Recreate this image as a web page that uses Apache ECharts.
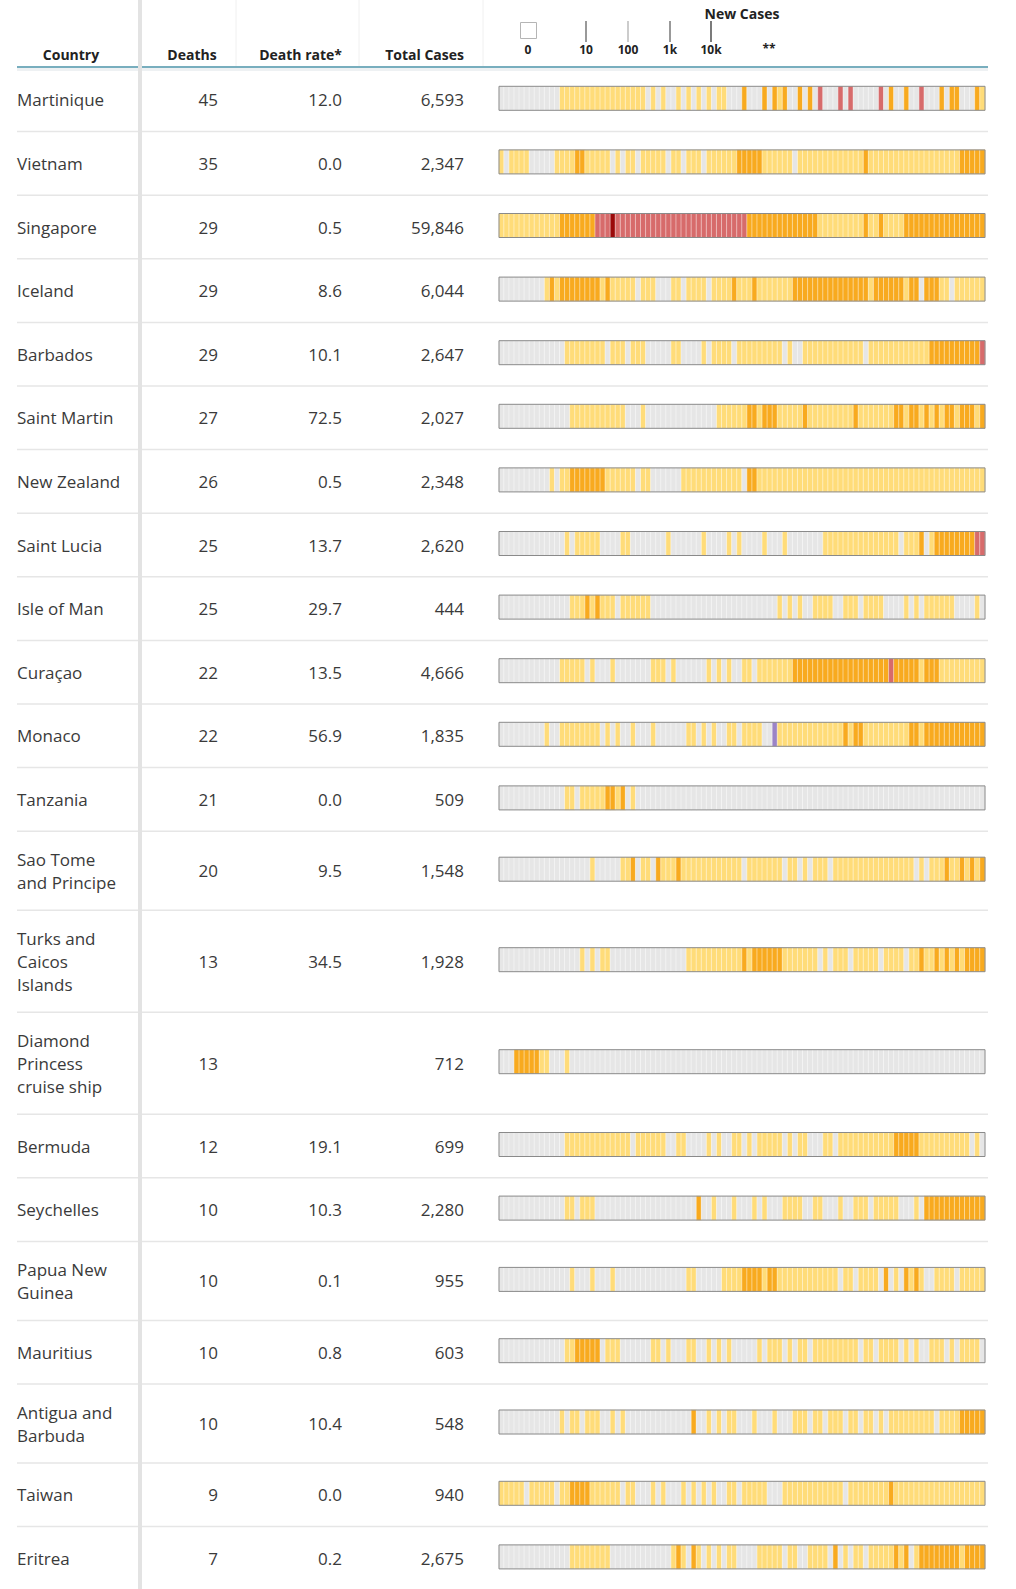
<!DOCTYPE html>
<html>
<head>
<meta charset="utf-8">
<script src="https://cdn.jsdelivr.net/npm/echarts@6/dist/echarts.min.js"></script>
<style>
  html,body{margin:0;padding:0;background:#fff;}
  #chart{width:1016px;height:1589px;}
</style>
</head>
<body>
<div id="chart"></div>
<script>
/* table data */
const countries = [
  "Martinique","Vietnam","Singapore","Iceland","Barbados","Saint Martin","New Zealand",
  "Saint Lucia","Isle of Man","Curaçao","Monaco","Tanzania","Sao Tome\nand Principe",
  "Turks and\nCaicos\nIslands","Diamond\nPrincess\ncruise ship","Bermuda","Seychelles",
  "Papua New\nGuinea","Mauritius","Antigua and\nBarbuda","Taiwan","Eritrea"
];
const deaths = [45,35,29,29,29,27,26,25,25,22,22,21,20,13,13,12,10,10,10,10,9,7];
const deathRate = ["12.0","0.0","0.5","8.6","10.1","72.5","0.5","13.7","29.7","13.5","56.9","0.0","9.5","34.5","","19.1","10.3","0.1","0.8","10.4","0.0","0.2"];
const totalCases = ["6,593","2,347","59,846","6,044","2,647","2,027","2,348","2,620","444","4,666","1,835","509","1,548","1,928","712","699","2,280","955","603","548","940","2,675"];

/* new cases per day, as legend band: 0 = none, 1 = 1-9, 2 = 10-99, 3 = 100-999, 4 = 1k+, 5 = ** */
const newCaseLevels = [
  "000000000000 111111111111 111110101001 010101011000 200020212002 020300030300 000302002003 000202200021",
  "101111000001 111221111101 011011111011 011101111112 222211111101 111111111111 211111111111 111111122222",
  "111111111111 222222233343 333333333333 333333333333 322222222222 222111111111 211211112222 222222222222",
  "000000000121 222222221211 111011100011 011110111121 112111111122 222222222222 212222221220 222110111111",
  "000000000000 011111111011 101110000011 000010111101 111111110100 111111111111 011111111111 122222222223",
  "000000000000 001111111111 100010000000 000000011111 122122211111 211111111121 111111221221 212122122212",
  "000000000010 112222222111 111011000000 111111111111 022111111111 111111111111 111111111111 111111111111",
  "000000000000 010111110000 110000000100 000010000101 000010001000 000011111111 111111101112 012222222233",
  "000000000000 001112121110 111111000000 000000000000 000000010101 001111001110 111100001010 111111000010",
  "000000000000 111110100010 000000111010 000001010100 110111111122 222222222222 222223222221 222111111111",
  "000000000100 111111110101 001000100000 011010100110 111100511111 111111112122 111111111221 222222222222",
  "000000000000 011011111221 201000000000 000000000000 000000000000 000000000000 000000000000 000000000000",
  "000000000000 000000100000 112011021112 111111111111 011111110110 101110111111 111111111101 011121121212",
  "000000000000 000010101100 000000000000 011111111111 212222221111 111010111011 111011110112 112121212222",
  "000222221100 010000000000 000000000000 000000000000 000000000000 000000000000 000000000000 000000000000",
  "000000000000 011111111111 110111111001 100001010011 010111110101 100011011111 111111222221 111111111010",
  "000000000000 011011100000 000000000000 000200100010 001010001111 001100010011 101111100010 222222222222",
  "000000000000 001000100010 000000000000 011000001111 222212211111 111111101101 111020102121 001111011111",
  "000000000000 011222220111 000000110100 011001010100 000101110101 101111111110 110111101010 011101011110",
  "000000000000 101101110010 100000000000 002001010110 001000100011 101101110110 110101111111 110111122222",
  "111110111110 112222111111 011000101000 101010100110 111110001111 111111110111 111112111111 111111111111",
  "000000000000 001111111100 000000000012 102101010110 000111110110 011110201011 011111212012 222222212222"
];

const legendTicks = ["10","100","1k","10k"];
const levelColors = ["#e6e6e6","#ffdc79","#f8aa1f","#d76b6b","#9b0a0a","#9b84c6"];

const DAYS = 96;
const FONT = '"Open Sans", "Noto Sans", sans-serif';

const chart = echarts.init(document.getElementById("chart"), null, {renderer:"svg", width:1016, height:1589});

/* row layout, taller rows for wrapped names */
let y = 68;
const rowTop = [], rowH = [];
countries.forEach(c=>{
  const n = c.split("\n").length;
  const h = n === 1 ? 63.6 : (n === 2 ? 79 : 102);
  rowTop.push(y);
  rowH.push(h);
  y += h;
});

const days = [];
for(let i=0;i<DAYS;i++) days.push(i);

const grids=[], xAxes=[], yAxes=[], series=[], graphics=[];

countries.forEach((c,i)=>{
  const mid = rowTop[i] + rowH[i]/2;
  const top = mid - 13.5;
  grids.push({left:499, top:top, width:486, height:24});
  xAxes.push({type:"category", gridIndex:i, data:days, show:false});
  yAxes.push({type:"category", gridIndex:i, data:[""], show:false});

  const lv = newCaseLevels[i].replace(/\s/g,"").padEnd(DAYS,"0").slice(0,DAYS).split("").map(Number);
  series.push({
    type:"heatmap",
    xAxisIndex:i, yAxisIndex:i,
    data: lv.map((v,j)=>[j,0,v]),
    itemStyle:{borderColor:"rgba(255,255,255,0.45)", borderWidth:1},
    emphasis:{disabled:true},
    progressive:0
  });

  // strip outline
  graphics.push({type:"rect", z:100, silent:true,
    shape:{x:499, y:top, width:486, height:24},
    style:{fill:"none", stroke:"#8a8a8a", lineWidth:1}});

  // table texts
  graphics.push({type:"text", style:{text:c, x:17, y:mid, verticalAlign:"middle", align:"left",
    font:"17px "+FONT, lineHeight:23, fill:"#3a3a3a"}});
  graphics.push({type:"text", style:{text:String(deaths[i]), x:218, y:mid, verticalAlign:"middle", align:"right",
    font:"17px "+FONT, fill:"#3a3a3a"}});
  graphics.push({type:"text", style:{text:deathRate[i], x:342, y:mid, verticalAlign:"middle", align:"right",
    font:"17px "+FONT, fill:"#3a3a3a"}});
  graphics.push({type:"text", style:{text:totalCases[i], x:464, y:mid, verticalAlign:"middle", align:"right",
    font:"17px "+FONT, fill:"#3a3a3a"}});

  // row separator
  if(i < countries.length-1){
    const ly = rowTop[i] + rowH[i];
    graphics.push({type:"line", shape:{x1:17, y1:ly, x2:988, y2:ly},
      style:{stroke:"#e6e6e6", lineWidth:1.5}});
  }
});

/* header */
const hdr = (t,x,align)=>({type:"text", style:{text:t, x:x, y:54, align:align, verticalAlign:"middle",
  font:"bold 14px "+FONT, fill:"#222"}});
graphics.push(hdr("Country",71,"center"));
graphics.push(hdr("Deaths",192,"center"));
graphics.push(hdr("Death rate*",342,"right"));
graphics.push(hdr("Total Cases",464,"right"));

[236,359,483].forEach(x=>{
  graphics.push({type:"line", shape:{x1:x, y1:0, x2:x, y2:66}, style:{stroke:"#f0f0f0", lineWidth:1}});
});
graphics.push({type:"line", shape:{x1:17, y1:69.5, x2:988, y2:69.5}, style:{stroke:"#eef1f3", lineWidth:3}});
graphics.push({type:"line", shape:{x1:17, y1:67, x2:988, y2:67}, style:{stroke:"#4b93a8", lineWidth:1.5}});
graphics.push({type:"rect", z:50, shape:{x:138, y:0, width:4, height:1589}, style:{fill:"#e3e3e3"}});

/* legend */
graphics.push({type:"text", style:{text:"New Cases", x:742, y:13, align:"center", verticalAlign:"middle",
  font:"bold 14px "+FONT, fill:"#222"}});
graphics.push({type:"rect", shape:{x:520.5, y:22.5, width:16, height:16}, style:{fill:"#fff", stroke:"#b5b5b5", lineWidth:1}});
graphics.push({type:"text", style:{text:"0", x:528, y:49, align:"center", verticalAlign:"middle",
  font:"bold 12px "+FONT, fill:"#222"}});
const tickX = [586,628,670,711];
const tickCol = ["#555","#aaa","#555","#222"];
legendTicks.forEach((t,k)=>{
  graphics.push({type:"line", shape:{x1:tickX[k], y1:21, x2:tickX[k], y2:42}, style:{stroke:tickCol[k], lineWidth:1.2}});
  graphics.push({type:"text", style:{text:t, x:tickX[k], y:49, align:"center", verticalAlign:"middle",
    font:"bold 12px "+FONT, fill:"#222"}});
});
graphics.push({type:"text", style:{text:"**", x:769, y:48, align:"center", verticalAlign:"middle",
  font:"bold 12px "+FONT, fill:"#222"}});

chart.setOption({
  animation:false,
  backgroundColor:"#fff",
  grid:grids,
  xAxis:xAxes,
  yAxis:yAxes,
  visualMap:{
    type:"piecewise", show:false, dimension:2,
    seriesIndex: series.map((s,i)=>i),
    pieces: levelColors.map((col,v)=>({value:v, color:col}))
  },
  series:series,
  graphic:graphics
});
</script>
</body>
</html>
